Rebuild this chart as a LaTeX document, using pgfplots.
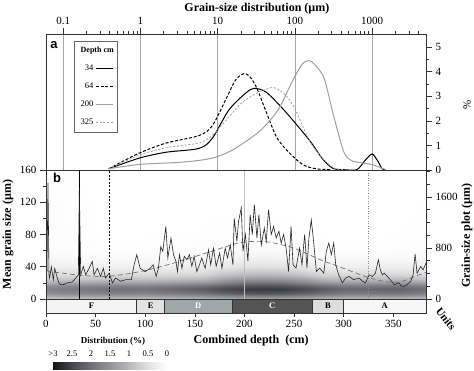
\documentclass[border=0pt]{standalone}
\usepackage{fontspec}
\setmainfont{Liberation Serif}
\newfontfamily\sansb{Liberation Sans}
\usepackage{pgfplots}
\pgfplotsset{compat=1.18}
\definecolor{gridg}{HTML}{A8A8A8}
\definecolor{lg}{HTML}{A0A0A0}
\definecolor{uF}{HTML}{F4F4F4}
\definecolor{uE}{HTML}{E2E2E2}
\definecolor{uD}{HTML}{A0A8A7}
\definecolor{uC}{HTML}{545454}
\definecolor{uB}{HTML}{DDDDDD}
\definecolor{uA}{HTML}{F7F7F7}
\pgfplotsset{
 colormap={hm}{rgb255(0cm)=(255,255,255) rgb255(0.5cm)=(225,225,226) rgb255(1cm)=(185,185,188) rgb255(1.5cm)=(148,148,152) rgb255(2cm)=(112,112,118) rgb255(2.5cm)=(70,70,78) rgb255(3cm)=(20,20,24)},
 every axis/.append style={
   /pgf/number format/assume math mode=true,
   /pgf/number format/1000 sep={},
   tick label style={font=\fontsize{11}{13}\selectfont},
   axis line style={black!80, line width=0.7pt},
   tick style={black!80, line width=0.6pt},
   label style={font=\fontsize{12}{14}\selectfont\bfseries},
 },
}
\begin{document}
\begin{tikzpicture}
\useasboundingbox (0,0) rectangle (474pt,370pt);

% ---------------- panel a ----------------
\begin{axis}[
  at={(46pt,200pt)}, anchor=south west, scale only axis,
  width=380pt, height=136pt,
  xmode=log, xmin=0.06, xmax=5000, ymin=0, ymax=5.53,
  xtick={0.1,1,10,100,1000}, xticklabels={0.1,1,10,100,1000},
  minor xtick={0.2,0.3,0.4,0.5,0.6,0.7,0.8,0.9,2,3,4,5,6,7,8,9,20,30,40,50,60,70,80,90,200,300,400,500,600,700,800,900,2000,3000,4000},
  xtick pos=upper, xticklabel pos=upper,
  ytick={0,1,2,3,4,5}, minor ytick={0.5,1.5,2.5,3.5,4.5},
  ytick pos=right, yticklabel pos=right,
  tick align=outside, major tick length=6pt, minor tick length=3.5pt,
  xmajorgrids, major x grid style={gridg, line width=0.6pt},
  ylabel={\%}, ylabel style={at={(axis description cs:1.108,0.48)}, anchor=center, font=\fontsize{11}{13}\selectfont},
  xlabel={Grain-size distribution (µm)}, xlabel style={at={(ticklabel cs:0.555)}, yshift=-3.5pt},
  legend style={at={(0.074,0.949)}, anchor=north west, draw=black!60, line width=0.8pt,
     font=\fontsize{8.5}{10}\selectfont, row sep=6.8pt, inner xsep=4pt, inner ysep=4pt, cells={anchor=east}},
  legend plot pos=right,
  legend image code/.code={\draw[line width=0.9pt,#1] (0pt,0pt) -- (17pt,0pt);},
]
\addlegendimage{empty legend}
\addlegendentry{\makebox[0pt]{\hspace*{8pt}\bfseries\fontsize{8}{9}\selectfont Depth cm}}
\addplot[black, line width=1pt, smooth] coordinates {
 (0.39,0.05)(0.96,0.48)(2.13,0.72)(5.75,0.88)(8.54,1.29)(14,2.44)(23,3.12)(29.6,3.32)(41.9,3.18)
 (65,2.6)(100,1.93)(160,1.15)(225,0.48)(310,0.07)(450,0.01)(641,0.02)(824,0.41)(1000,0.65)(1164,0.41)(1352,0.05)(1500,0.01)};
\addlegendentry{34}
\addplot[black, line width=1pt, dash pattern=on 3pt off 1.8pt, smooth] coordinates {
 (0.39,0.05)(0.96,0.68)(2.13,1.09)(5.75,1.40)(8.54,1.80)(12.7,2.85)(17.1,3.66)(22,3.92)(26,3.80)(32,3.35)(44,2.25)(59,1.3)(88,0.65)(130,0.2)(190,0.05)(300,0.01)};
\addlegendentry{64}
\addplot[lg, line width=1pt, smooth] coordinates {
 (0.39,0.05)(1.0,0.23)(3.5,0.32)(8.5,0.48)(15.5,0.81)(28.3,1.35)(40,1.75)(62.3,2.5)(92.5,3.6)(124.7,4.3)(152,4.45)(180,4.3)(240,3.72)(320,2.17)(430,0.75)(530,0.4)(700,0.3)(1000,0.22)(1352,0.07)(1500,0.02)};
\addlegendentry{200}
\addplot[lg, line width=0.8pt, dash pattern=on 2pt off 1.8pt, smooth] coordinates {
 (0.39,0.05)(0.96,0.6)(2.13,0.9)(5.75,1.1)(8.5,1.4)(12.7,2.0)(20,2.7)(31,3.1)(42,3.28)(54,3.35)(76,3.05)(100,2.5)(130,1.7)(168,1.0)(250,0.35)(337,0.05)(450,0.02)};
\addlegendentry{325}
\end{axis}

% ---------------- panel b ----------------
\begin{axis}[
  at={(46pt,71pt)}, anchor=south west, scale only axis,
  width=380pt, height=129pt,
  xmin=0, xmax=383, ymin=0, ymax=160,
  xtick=\empty, ytick={0,40,80,120,160}, minor ytick={20,60,100,140},
  ytick pos=left, tick align=outside, major tick length=6pt, minor tick length=3.5pt,
  ylabel={Mean grain size (µm)}, ylabel style={at={(axis description cs:-0.1,0.5)}, anchor=center},
  colormap name=hm, point meta min=0, point meta max=3,
  axis on top,
]
\addplot[surf, shader=interp, mesh/cols=20, point meta=explicit] coordinates {
(0,0)[0.79] (20,0)[0.83] (40,0)[0.86] (60,0)[0.88] (80,0)[0.9] (100,0)[0.88] (120,0)[0.92] (140,0)[0.97] (160,0)[1.01] (180,0)[1.10] (200,0)[1.17] (220,0)[1.19] (240,0)[1.17] (260,0)[1.10] (280,0)[1.01] (300,0)[0.95] (320,0)[0.95] (340,0)[0.97] (360,0)[0.97] (383,0)[0.90]
(0,4)[1.19] (20,4)[1.26] (40,4)[1.29] (60,4)[1.33] (80,4)[1.36] (100,4)[1.33] (120,4)[1.39] (140,4)[1.46] (160,4)[1.53] (180,4)[1.67] (200,4)[1.77] (220,4)[1.80] (240,4)[1.77] (260,4)[1.67] (280,4)[1.53] (300,4)[1.43] (320,4)[1.43] (340,4)[1.46] (360,4)[1.46] (383,4)[1.36]
(0,8)[1.58] (20,8)[1.67] (40,8)[1.71] (60,8)[1.76] (80,8)[1.8] (100,8)[1.76] (120,8)[1.85] (140,8)[1.94] (160,8)[2.03] (180,8)[2.21] (200,8)[2.34] (220,8)[2.39] (240,8)[2.34] (260,8)[2.21] (280,8)[2.03] (300,8)[1.89] (320,8)[1.89] (340,8)[1.94] (360,8)[1.94] (383,8)[1.80]
(0,12)[1.75] (20,12)[1.85] (40,12)[1.9] (60,12)[1.95] (80,12)[2.0] (100,12)[1.95] (120,12)[2.05] (140,12)[2.15] (160,12)[2.25] (180,12)[2.45] (200,12)[2.6] (220,12)[2.65] (240,12)[2.6] (260,12)[2.45] (280,12)[2.25] (300,12)[2.1] (320,12)[2.1] (340,12)[2.15] (360,12)[2.15] (383,12)[2.0]
(0,16)[1.58] (20,16)[1.67] (40,16)[1.71] (60,16)[1.76] (80,16)[1.8] (100,16)[1.76] (120,16)[1.85] (140,16)[1.94] (160,16)[2.03] (180,16)[2.21] (200,16)[2.34] (220,16)[2.39] (240,16)[2.34] (260,16)[2.21] (280,16)[2.03] (300,16)[1.89] (320,16)[1.89] (340,16)[1.94] (360,16)[1.94] (383,16)[1.80]
(0,20)[1.19] (20,20)[1.26] (40,20)[1.29] (60,20)[1.33] (80,20)[1.36] (100,20)[1.33] (120,20)[1.39] (140,20)[1.46] (160,20)[1.53] (180,20)[1.75] (200,20)[1.95] (220,20)[2.0] (240,20)[1.95] (260,20)[1.75] (280,20)[1.53] (300,20)[1.43] (320,20)[1.43] (340,20)[1.46] (360,20)[1.46] (383,20)[1.36]
(0,25)[0.79] (20,25)[0.83] (40,25)[0.86] (60,25)[0.88] (80,25)[0.9] (100,25)[0.88] (120,25)[0.92] (140,25)[0.97] (160,25)[1.01] (180,25)[1.3] (200,25)[1.45] (220,25)[1.5] (240,25)[1.45] (260,25)[1.3] (280,25)[1.01] (300,25)[0.95] (320,25)[0.95] (340,25)[0.97] (360,25)[0.97] (383,25)[0.90]
(0,30)[0.53] (20,30)[0.56] (40,30)[0.57] (60,30)[0.59] (80,30)[0.6] (100,30)[0.59] (120,30)[0.62] (140,30)[0.65] (160,30)[0.68] (180,30)[0.9] (200,30)[1.0] (220,30)[1.05] (240,30)[1.0] (260,30)[0.85] (280,30)[0.68] (300,30)[0.63] (320,30)[0.63] (340,30)[0.65] (360,30)[0.65] (383,30)[0.6]
(0,40)[0.3] (20,40)[0.28] (40,40)[0.25] (60,40)[0.25] (80,40)[0.26] (100,40)[0.27] (120,40)[0.29] (140,40)[0.3] (160,40)[0.32] (180,40)[0.42] (200,40)[0.5] (220,40)[0.52] (240,40)[0.5] (260,40)[0.4] (280,40)[0.32] (300,40)[0.29] (320,40)[0.29] (340,40)[0.3] (360,40)[0.3] (383,40)[0.3]
(0,50)[0.15] (20,50)[0.12] (40,50)[0.1] (60,50)[0.1] (80,50)[0.1] (100,50)[0.12] (120,50)[0.13] (140,50)[0.14] (160,50)[0.15] (180,50)[0.2] (200,50)[0.24] (220,50)[0.25] (240,50)[0.24] (260,50)[0.18] (280,50)[0.14] (300,50)[0.12] (320,50)[0.12] (340,50)[0.13] (360,50)[0.13] (383,50)[0.14]
(0,60)[0.08] (20,60)[0.05] (40,60)[0.04] (60,60)[0.03] (80,60)[0.03] (100,60)[0.04] (120,60)[0.05] (140,60)[0.05] (160,60)[0.06] (180,60)[0.08] (200,60)[0.1] (220,60)[0.1] (240,60)[0.09] (260,60)[0.07] (280,60)[0.05] (300,60)[0.04] (320,60)[0.04] (340,60)[0.04] (360,60)[0.05] (383,60)[0.06]
(0,80)[0.05] (20,80)[0.03] (40,80)[0.02] (60,80)[0] (80,80)[0] (100,80)[0] (120,80)[0] (140,80)[0] (160,80)[0.01] (180,80)[0.02] (200,80)[0.02] (220,80)[0.02] (240,80)[0.02] (260,80)[0.01] (280,80)[0] (300,80)[0] (320,80)[0] (340,80)[0] (360,80)[0.01] (383,80)[0.02]
(0,120)[0.05] (20,120)[0.02] (40,120)[0.01] (60,120)[0] (80,120)[0] (100,120)[0] (120,120)[0] (140,120)[0] (160,120)[0] (180,120)[0] (200,120)[0] (220,120)[0] (240,120)[0] (260,120)[0] (280,120)[0] (300,120)[0] (320,120)[0] (340,120)[0] (360,120)[0] (383,120)[0.01]
(0,160)[0.03] (20,160)[0.02] (40,160)[0] (60,160)[0] (80,160)[0] (100,160)[0] (120,160)[0] (140,160)[0] (160,160)[0] (180,160)[0] (200,160)[0] (220,160)[0] (240,160)[0] (260,160)[0] (280,160)[0] (300,160)[0] (320,160)[0] (340,160)[0] (360,160)[0] (383,160)[0]
};
% depth marker lines
\addplot[black, line width=0.7pt] coordinates {(34,0)(34,160)};
\addplot[black, line width=0.8pt, dash pattern=on 2pt off 1.5pt] coordinates {(64,0)(64,160)};
\addplot[black!25, line width=1.3pt] coordinates {(200,0)(200,160)};
\addplot[black!45, line width=0.7pt, dash pattern=on 1pt off 1.5pt] coordinates {(325,0)(325,160)};
% trend
\addplot[black!55, line width=0.7pt, dash pattern=on 5pt off 3pt, smooth] coordinates {
 (0,35)(30,30)(60,28)(95,34)(130,45)(169,60)(196,70)(222,71)(250,63)(276,49)(300,38)(322,28)(340,22)(356,21)(374,29)(383,33)};
% mean grain size
\addplot[black!85, line width=0.6pt] coordinates {
 (0,38)(1,36)(2,144)(3,30)(3.7,26)(5.4,40)(7.4,24)(8.8,38)(11.4,26)(13,20)(14.8,17.7)(18,18)(21.5,20)(26.5,21)(30,26)(32.6,30)(33.6,138)(35,30)(37.6,40.5)(40,30)(43.4,38)(46.7,46.7)(48.4,30)(51.8,38)(55,28)(57.8,38)(60,26)(63.6,32)(67,20)(70,26)(75.4,22)(80.4,24)(86,24)(88.8,42.5)(91.5,55)(94.9,38)
 (100,34)(105,38)(108,42.5)(111,28)(113.3,38)(115.7,65)(117.7,59)(120.8,90)(122.8,51)(126,75.6)(128.5,55)(131,46.7)(132.5,34)(134.5,55)(137,38)(139.3,53)(142,48.7)(144.6,55)(147,40.5)(149.3,53)(152,34)(154.7,42.5)(157,51)(160.4,38)(163.8,61)(166,42.5)(168.8,63)(171.5,40.5)(175,57)(177.3,38)(180.6,63)(183,51)(185.7,67)(188.4,42.5)(189.7,100)(192.4,71.5)(194,96)(196.8,113)(198.5,59)(201,80)(203.5,46.7)
 (205.8,104.5)(207.9,80)(210,117)(212.6,75.6)(214.6,104.5)(217,67)(220,88)(222,71.5)(224.3,110.7)(227,80)(229.4,90)(232,75.6)(234.8,84)(237,69.4)(239.5,80)(242,63)(244.5,34)(247,90)(249,42.5)(252,38.4)(255.6,63)(258,42.5)(260.7,80)(263,38.4)(265,75.6)(267.4,98)(269.7,71.5)(272.5,34)(275.8,38.4)(280,32)(282.5,59)(285,69.4)(287.6,55)(290,69.4)(292,42.5)(295,30)(298.7,20)
 (302,26)(305.5,28)(310,24)(315.5,26)(319,22)(322,20)(325.6,30)(329,28)(332,32)(335,48.7)(337,36)(339,30)(341,32)(344,28)(347,24)(351,17.7)(356,20)(358,16)(361,15.7)(364,18)(367.6,22)(370,30)(372,55.8)(374,32)(377.7,40.5)(380,36)(383,44.6)};
\end{axis}

% right axis of panel b
\begin{axis}[
  at={(46pt,71pt)}, anchor=south west, scale only axis,
  width=380pt, height=129pt,
  xmin=0, xmax=383, ymin=0, ymax=2024,
  axis x line=none, axis y line*=right,
  ytick={0,800,1600}, minor ytick={200,400,600,1000,1200,1400,1800,2000},
  tick align=outside, major tick length=6pt, minor tick length=3.5pt,
  ylabel={Grain-size plot (µm)}, ylabel style={at={(axis description cs:1.108,0.49)}, anchor=center},
]
\addplot[draw=none] coordinates {(0,0)};
\end{axis}

% ---------------- units bar ----------------
\begin{axis}[
  at={(46pt,57pt)}, anchor=south west, scale only axis,
  width=380pt, height=14pt,
  xmin=0, xmax=383, ymin=0, ymax=1,
  ytick=\empty, xtick={0,50,...,350}, xtick pos=lower,
  tick align=outside, major tick length=4pt,
  xlabel={Combined depth\ \ (cm)}, xlabel style={at={(ticklabel cs:0.54)}},
  axis on top,
]
\addplot[draw=black!80, line width=0.6pt, fill=uF] coordinates {(0,0)(91.5,0)(91.5,1)(0,1)(0,0)};
\addplot[draw=black!80, line width=0.6pt, fill=uE] coordinates {(91.5,0)(119.4,0)(119.4,1)(91.5,1)(91.5,0)};
\addplot[draw=black!80, line width=0.6pt, fill=uD] coordinates {(119.4,0)(187.7,0)(187.7,1)(119.4,1)(119.4,0)};
\addplot[draw=black!80, line width=0.6pt, fill=uC] coordinates {(187.7,0)(268.5,0)(268.5,1)(187.7,1)(187.7,0)};
\addplot[draw=black!80, line width=0.6pt, fill=uB] coordinates {(268.5,0)(299.7,0)(299.7,1)(268.5,1)(268.5,0)};
\addplot[draw=black!80, line width=0.6pt, fill=uA] coordinates {(299.7,0)(383,0)(383,1)(299.7,1)(299.7,0)};
\node[font=\fontsize{8.5}{10}\selectfont\bfseries] at (axis cs:45.75,0.5) {F};
\node[font=\fontsize{8.5}{10}\selectfont\bfseries] at (axis cs:105.5,0.5) {E};
\node[font=\fontsize{8.5}{10}\selectfont\bfseries, white] at (axis cs:153.5,0.5) {D};
\node[font=\fontsize{8.5}{10}\selectfont\bfseries, white] at (axis cs:228.1,0.5) {C};
\node[font=\fontsize{8.5}{10}\selectfont\bfseries] at (axis cs:284.1,0.5) {B};
\node[font=\fontsize{8.5}{10}\selectfont\bfseries] at (axis cs:341.4,0.5) {A};
\end{axis}

% ---------------- colour scale ----------------
\begin{axis}[
  at={(53pt,1pt)}, anchor=south west, scale only axis,
  width=114pt, height=7pt,
  xmin=0, xmax=3, ymin=0, ymax=1, x dir=reverse,
  ytick=\empty, xtick={0,0.5,1,1.5,2,2.5,3}, xticklabels={0,0.5,1,1.5,2,2.5,>3},
  xtick pos=upper, xticklabel pos=upper, major tick length=0pt,
  axis line style={draw=none},
  xticklabel style={font=\fontsize{8.5}{10}\selectfont, yshift=2pt},
  colormap name=hm, point meta min=0, point meta max=3,
]
\addplot[surf, shader=interp, mesh/cols=7, point meta=explicit] coordinates {
 (0,0)[0] (0.5,0)[0.5] (1,0)[1] (1.5,0)[1.5] (2,0)[2] (2.5,0)[2.5] (3,0)[3]
 (0,1)[0] (0.5,1)[0.5] (1,1)[1] (1.5,1)[1.5] (2,1)[2] (2.5,1)[2.5] (3,1)[3]};
\end{axis}
\node[font=\fontsize{9}{10}\selectfont\bfseries] at (113pt,29pt) {Distribution (\%)};

% panel letters and side label
\node[font=\sansb\bfseries\fontsize{13}{14}\selectfont] at (54pt,325pt) {a};
\node[font=\sansb\bfseries\fontsize{13}{14}\selectfont] at (57pt,192pt) {b};
\node[font=\fontsize{11}{13}\selectfont\bfseries, rotate=-52] at (446pt,51pt) {Units};
\end{tikzpicture}
\end{document}
